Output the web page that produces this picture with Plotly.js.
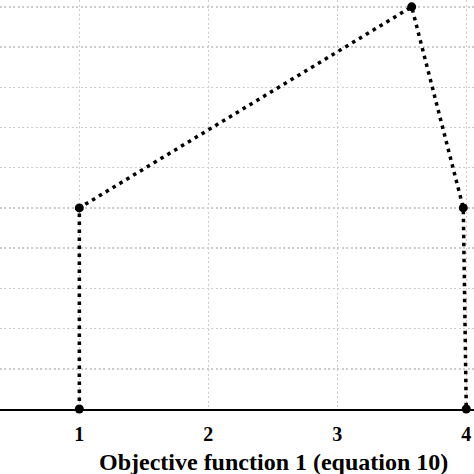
<!DOCTYPE html>
<html>
<head>
<meta charset="utf-8">
<script src="https://cdn.plot.ly/plotly-3.0.1.min.js"></script>
<style>html,body{margin:0;padding:0;background:#fff;}#chart{width:474px;height:474px;}</style>
</head>
<body>
<div id="chart"></div>
<script>
// Data (y axis labels are cropped off in the original)
const objective1 = [1.0, 1.0, 3.577, 3.977, 4.0];
const objective2 = [0, 5, 10, 5, 0];
const xTickValues = [1, 2, 3, 4];
const xTickLabels = ["1", "2", "3", "4"];
const xTitle = "Objective function 1 (equation 10)";

const trace = {
  x: objective1,
  y: objective2,
  type: "scatter",
  mode: "lines+markers",
  line: {color: "#000", width: 3.5, dash: "3.5px,4.5px"},
  marker: {color: "#000", size: 9},
  cliponaxis: false,
  hoverinfo: "none"
};

const layout = {
  width: 474,
  height: 474,
  margin: {l: 0, r: 0, t: 0, b: 65},
  paper_bgcolor: "#fff",
  plot_bgcolor: "#fff",
  showlegend: false,
  xaxis: {
    range: [0.385, 4.06],
    tickvals: xTickValues,
    ticktext: xTickLabels,
    showgrid: true,
    gridcolor: "#cccccc",
    gridwidth: 1.5,
    griddash: "2px,2.5px",
    zeroline: false,
    showline: true,
    linecolor: "#000",
    linewidth: 2,
    ticks: "",
    ticklabelstandoff: 6,
    tickfont: {family: "Liberation Serif, Times New Roman, serif", size: 20, color: "#000", weight: "bold"}
  },
  yaxis: {
    range: [0, 10.17],
    dtick: 1,
    tick0: 0,
    showgrid: true,
    gridcolor: "#cccccc",
    gridwidth: 1.5,
    griddash: "2px,2.5px",
    zeroline: false,
    showline: false,
    showticklabels: false,
    ticks: ""
  },
  annotations: [{
    text: "<b>" + xTitle + "</b>",
    xref: "paper", yref: "paper",
    x: 273 / 474, y: -(462 - 409) / 409,
    xanchor: "center", yanchor: "middle",
    showarrow: false,
    font: {family: "Liberation Serif, Times New Roman, serif", size: 24, color: "#000"}
  }]
};

Plotly.newPlot("chart", [trace], layout, {displayModeBar: false, staticPlot: true});
</script>
</body>
</html>
